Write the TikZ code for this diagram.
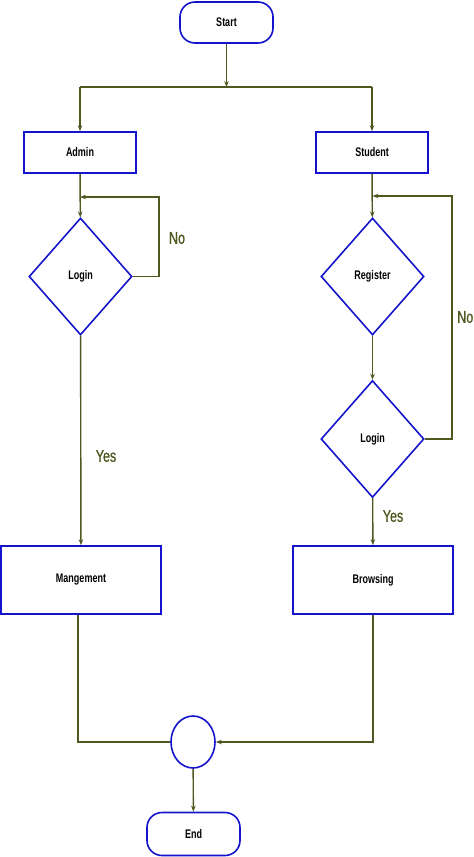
\documentclass[tikz,border=0pt]{standalone}
\usepackage{fontspec}
\usetikzlibrary{shapes.geometric,arrows.meta}
\newfontfamily\nodefont[FakeStretch=0.72]{Liberation Sans Bold}
\newfontfamily\labfont[FakeStretch=0.74,FakeBold=0.8]{Liberation Sans}
\definecolor{boxblue}{RGB}{20,20,205}
\definecolor{olive}{RGB}{78,88,32}
\tikzset{
  base/.style={draw=boxblue, line width=1.6pt, fill=white, font=\nodefont\fontsize{12.5}{14}\selectfont, text=black, inner sep=0pt},
  term/.style={base, rectangle, rounded corners=15pt, minimum width=93pt, minimum height=41pt},
  proc/.style={base, rectangle, minimum width=112pt, minimum height=41pt},
  bigproc/.style={base, rectangle, minimum width=160pt, minimum height=68pt},
  decision/.style={base, diamond, minimum width=103pt, minimum height=117pt},
  joiner/.style={base, ellipse, minimum width=44pt, minimum height=52pt},
  conn/.style={draw=olive, line width=1.4pt},
  arr/.style={conn, -{Stealth[length=6pt,width=4.5pt]}},
  lab/.style={text=olive, font=\labfont\fontsize{17}{19}\selectfont, inner sep=0pt}
}
\begin{document}
\begin{tikzpicture}[x=1pt,y=-1pt]
\useasboundingbox (0,0) rectangle (474,857);
\node[term] (start) at (226.5,22.5) {Start};
\node[proc] (admin) at (80,152.5) {Admin};
\node[proc] (student) at (372,152.5) {Student};
\node[decision] (login1) at (80.5,276.5) {Login};
\node[decision] (register) at (372.5,276.5) {Register};
\node[decision] (login2) at (372.5,439) {Login};
\node[bigproc] (mgmt) at (81,580) {Mangement};
\node[bigproc] (browse) at (373,580) {Browsing};
\node[joiner] (join) at (193,742) {};
\node[term, minimum height=43pt] (end) at (193.5,834) {End};

\coordinate (hl) at (80,87);
\coordinate (hr) at (372,87);
\coordinate (hm) at (226.5,87);
\draw[conn] (hl) -- (hr);
\draw[arr] (start) -- (hm);
\draw[arr] (hl) -- (admin);
\draw[arr] (hr) -- (student);

\draw[arr] (admin) -- (login1);
\coordinate (lp1) at (80,197);
\draw[arr] (login1.east) -- (159,276.5) |- (lp1);
\node[lab] at (177,238) {No};

\draw[arr] (student) -- (register);
\coordinate (lp2) at (372.5,196);
\draw[arr] (login2.east) -- (452,439) |- (lp2);
\node[lab, anchor=west] at (457,317) {No};

\draw[arr] (register) -- (login2);
\draw[arr] (login1) -- (mgmt);
\node[lab] at (106,456) {Yes};
\draw[arr] (login2) -- (browse);
\node[lab] at (393,516) {Yes};

\draw[conn] ([xshift=-3pt]mgmt.south) |- (join.west);
\draw[arr] (browse.south) |- (join.east);
\draw[arr] (join) -- (end);
\end{tikzpicture}
\end{document}
